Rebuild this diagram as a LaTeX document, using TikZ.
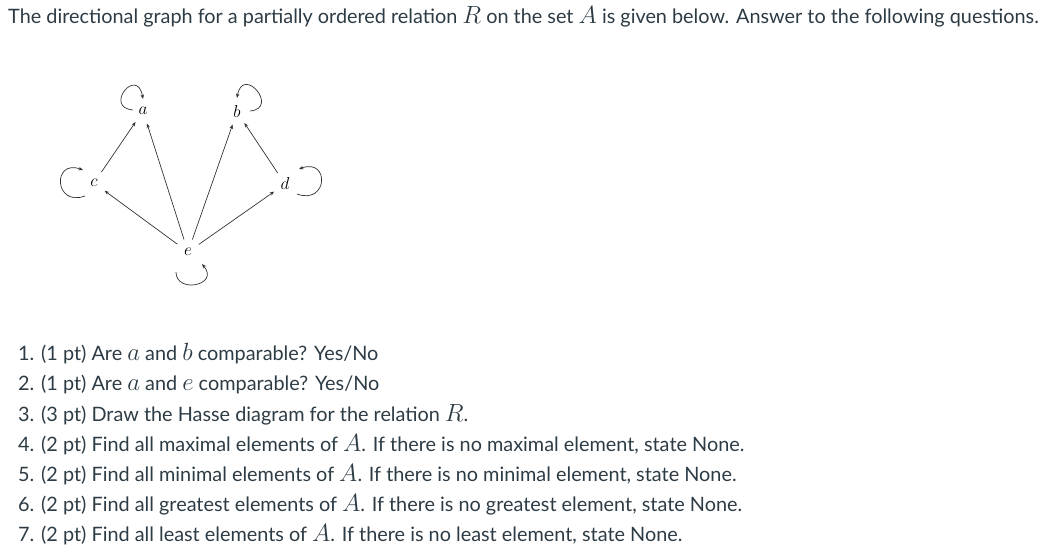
\documentclass[tikz,border=0pt]{standalone}
\usepackage{fontspec}
\setmainfont{Lato}
\usetikzlibrary{arrows.meta}
\definecolor{textgray}{HTML}{2D3B45}
\definecolor{linegray}{HTML}{333333}
\newcommand{\M}[1]{{\fontsize{23.5}{24}\selectfont$#1$}}
\begin{document}
\begin{tikzpicture}[x=1pt,y=1pt,
  txt/.style={anchor=base west, inner sep=0pt, font=\fontsize{19.85}{24}\selectfont, text=textgray},
  vtx/.style={circle, minimum size=26pt, inner sep=0pt, font=\fontsize{17}{17}\selectfont},
  arr/.style={draw=linegray, line width=0.7pt, -{Stealth[length=4.5pt,width=3.5pt]}}
]
\useasboundingbox (0,0) rectangle (1058,-553);
\node[txt] (title) at (8,-24) {The directional graph for a partially ordered relation \M{R} on the set \M{A} is given below. Answer to the following questions.};

\node[vtx] (a) at (143,-111) {$a$};
\node[vtx] (b) at (237,-112) {$b$};
\node[vtx] (c) at (94,-183) {$c$};
\node[vtx] (d) at (285,-184) {$d$};
\node[vtx] (e) at (188,-252) {$e$};

\draw[arr] (c) -- (a);
\draw[arr] (e) -- (a);
\draw[arr] (e) -- (b);
\draw[arr] (d) -- (b);
\draw[arr] (e) -- (c);
\draw[arr] (e) -- (d);

\draw[arr] ([shift={(-10,1)}]a.center) .. controls +(175:30) and +(100:34) .. ([shift={(0,12)}]a.center);
\draw[arr] ([shift={(13,1)}]b.center) .. controls +(5:30) and +(80:34) .. ([shift={(0,14)}]b.center);
\draw[arr] ([shift={(-9,-13)}]c.center) .. controls +(200:33) and +(160:33) .. ([shift={(-11,13)}]c.center);
\draw[arr] ([shift={(12,-10)}]d.center) .. controls +(-20:33) and +(20:33) .. ([shift={(14,15)}]d.center);
\draw[arr] ([shift={(-12,-20)}]e.center) .. controls +(-90:22) and +(-50:28) .. ([shift={(14,-12)}]e.center);

\node[txt] (q1) at (18,-361) {1. (1 pt) Are \M{a} and \M{b} comparable? Yes/No};
\node[txt] (q2) at (18,-391) {2. (1 pt) Are \M{a} and \M{e} comparable? Yes/No};
\node[txt] (q3) at (18,-421) {3. (3 pt) Draw the Hasse diagram for the relation \M{R}.};
\node[txt] (q4) at (18,-451) {4. (2 pt) Find all maximal elements of \M{A}. If there is no maximal element, state None.};
\node[txt] (q5) at (18,-481) {5. (2 pt) Find all minimal elements of \M{A}. If there is no minimal element, state None.};
\node[txt] (q6) at (18,-511) {6. (2 pt) Find all greatest elements of \M{A}. If there is no greatest element, state None.};
\node[txt] (q7) at (18,-541) {7. (2 pt) Find all least elements of \M{A}. If there is no least element, state None.};
\end{tikzpicture}
\end{document}
